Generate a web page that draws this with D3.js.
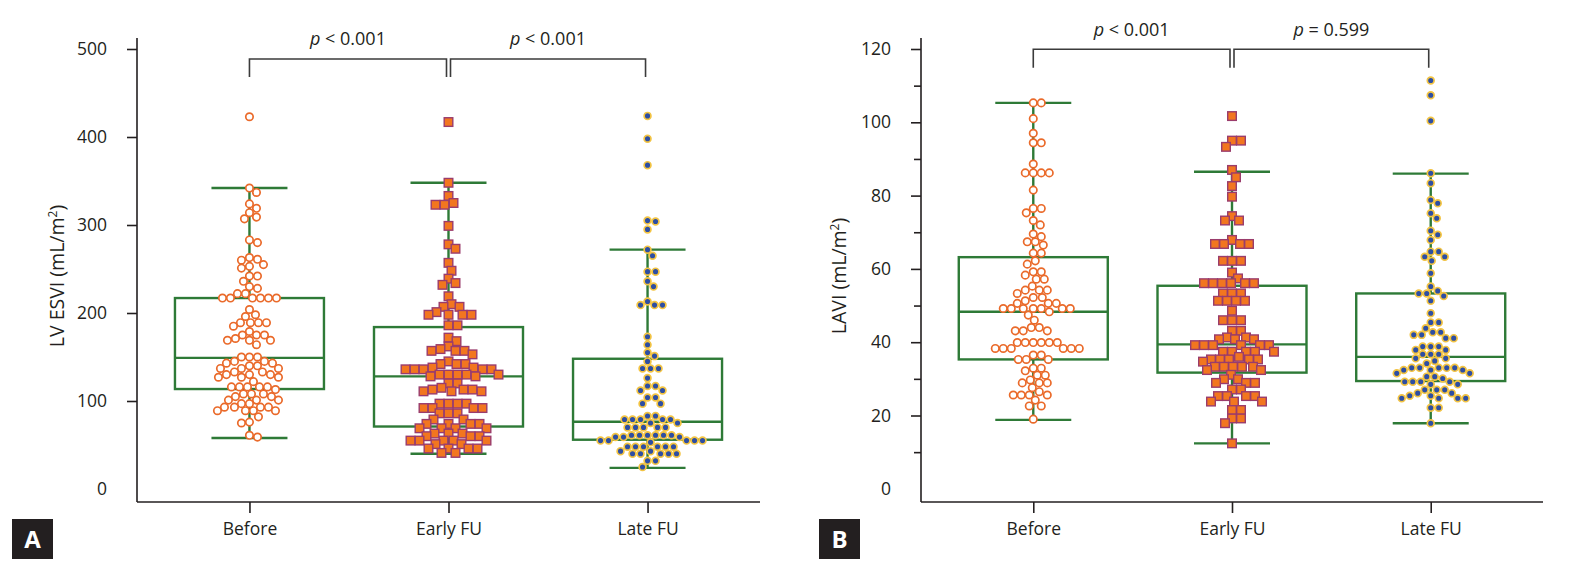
<!DOCTYPE html>
<html>
<head>
<meta charset="utf-8">
<script src="https://cdn.jsdelivr.net/npm/d3@7"></script>
<style>
	body { margin: 0; background: #fff; }
	svg { display: block; }
	text { font-family: "Open Sans", sans-serif; fill: #231f20; }
</style>
</head>
<body>
<svg id="chart"></svg>
<script>
const width = 1571, height = 578;

// categories + ticks
const categories = ["Before", "Early FU", "Late FU"];
const ticksA = [0, 100, 200, 300, 400, 500];
const ticksB = [0, 20, 40, 60, 80, 100, 120];
const minorTicksB = [10, 30, 50, 70, 90, 110];

// box stats (Before, Early FU, Late FU)
const aLow = [58, 40, 24];
const aQ1 = [113.6, 71, 56];
const aMedian = [149, 128, 76.5];
const aQ3 = [217, 184, 148];
const aHigh = [342, 348, 272];

const bLow = [18.8, 12.4, 17.9];
const bQ1 = [35.3, 31.7, 29.4];
const bMedian = [48.3, 39.4, 36];
const bQ3 = [63.2, 55.4, 53.3];
const bHigh = [105.3, 86.5, 86];

// individual points, LV ESVI (mL/m2)
const aBefore = [423, 342, 337, 324, 319, 314, 309, 307, 283, 280, 263, 261, 260, 255, 253, 251, 242, 242, 236, 230, 228,
	222, 222, 217, 217, 217, 217, 217, 217, 204, 198, 196, 189, 189, 189, 189, 185, 179, 175, 175, 175, 171, 169, 169, 169,
	164, 150, 150, 150, 145, 145, 143, 143, 140, 140, 137, 137, 137, 133, 133, 130, 130, 130, 127, 127, 127, 122, 116, 116,
	116, 116, 116, 113, 108, 108, 108, 105, 105, 101, 101, 101, 97, 97, 93, 93, 93, 93, 89, 89, 89, 89, 82, 76, 75, 61, 59];
const aEarly = [417, 348, 333, 325, 323, 323, 299, 278, 273, 257, 248, 239, 234, 232, 219, 210, 207, 207, 201, 198, 198,
	198, 198, 186, 186, 172, 168, 162, 159, 157, 157, 157, 153, 145, 142, 142, 142, 138, 138, 136, 136, 136, 136, 136, 130,
	130, 130, 130, 130, 128, 128, 120, 120, 115, 113, 113, 113, 111, 111, 111, 97, 97, 97, 97, 92, 92, 92, 92, 86, 86, 86,
	79, 79, 74, 74, 74, 74, 69, 69, 69, 69, 63, 63, 63, 60, 60, 60, 55, 55, 55, 55, 55, 51, 51, 46, 46, 46, 46, 41, 41];
const aLate = [424, 398, 368, 305, 304, 295, 272, 265, 247, 247, 236, 230, 213, 209, 209, 209, 173, 164, 155, 151, 145,
	137, 137, 137, 126, 117, 117, 112, 112, 104, 104, 97, 97, 83, 83, 79, 79, 79, 79, 79, 75, 75, 70, 70, 70, 70, 70,
	61, 61, 61, 61, 61, 61, 59, 59, 59, 55, 55, 55, 55, 55, 53, 48, 48, 48, 48, 48, 48, 43, 43, 40, 40, 40, 40, 40, 32, 32, 25];

// individual points, LAVI (mL/m2)
const bBefore = [105.3, 105.3, 101, 97, 94.4, 94.4, 88.6, 86.2, 86.2, 86.2, 86.2, 81.5, 76.5, 76.5, 75.3, 73.2, 72, 69.5,
	68.8, 67.4, 67.4, 66.5, 64.3, 64.3, 62.2, 61.3, 59.2, 59.2, 58.3, 57.2, 57.2, 55.3, 54.2, 54.2, 54.2, 53.3, 52.2, 52.2,
	51.3, 50.6, 50.6, 50.6, 49.2, 49.2, 49.2, 49.2, 49.2, 49.2, 49.2, 48.3, 47.4, 46, 44, 44, 43.1, 43.1, 43.1, 39.9, 39.9,
	39.9, 39.9, 39.9, 39.9, 38.3, 38.3, 38.3, 38.3, 38.3, 38.3, 36.5, 36.5, 35.3, 35.3, 35.3, 32.9, 32.9, 32.2, 31, 31, 29.7,
	28.9, 28.9, 28.9, 27.6, 26.5, 25.6, 25.6, 25.6, 25.6, 24.2, 22.6, 22.6, 19];
const bEarly = [101.7, 95, 95, 93.3, 87, 85, 82.6, 79.7, 74.4, 73.2, 73.2, 67.9, 66.8, 66.8, 66.8, 66.8, 62.2, 62.2, 62.2,
	59, 57.4, 56.1, 56.1, 56.1, 56.1, 56.1, 56.1, 53.3, 53.3, 53.3, 51.3, 51.3, 51.3, 51.3, 48.6, 46, 46, 46, 43.1, 43.1,
	41.3, 41.3, 40.8, 40.8, 40.8, 39.2, 39.2, 39.2, 39.2, 39.2, 39.2, 37.4, 37.4, 37.4, 37.4, 37.4, 36, 35.3, 35.3, 35.3,
	35.3, 35.3, 34.7, 33.3, 33.3, 33.3, 33.3, 33.3, 32.4, 32.4, 31.1, 29.9, 29.9, 28.9, 28.9, 28.9, 27.1, 27.1, 25.3, 25.3,
	25.3, 25.3, 23.8, 23.8, 23.8, 21.5, 21.5, 19.2, 19.2, 17.9, 12.4];
const bLate = [111.4, 107.4, 100.4, 86.1, 83.4, 78.8, 77.9, 75.2, 73.8, 70.4, 69.3, 67.9, 64.7, 64.7, 63.3, 63.3, 62.2,
	58.8, 55.2, 54, 53.3, 53.3, 52.6, 51.3, 47.9, 45.4, 45.4, 43.8, 42.7, 42.7, 42, 42, 41.1, 41.1, 38.8, 38.8, 38.8, 37.9,
	37.9, 36.7, 36.7, 36.7, 35.6, 35.6, 34.9, 34.2, 33, 33, 33, 33, 33, 32.4, 32.4, 32.4, 31.5, 31.5, 30.6, 30.6, 30.1,
	29.2, 29.2, 29.2, 29.2, 28.5, 28.5, 27, 27, 27, 26.1, 26.1, 25.4, 25.4, 24.7, 24.7, 24.7, 24.7, 22.1, 22.1, 17.9];

const green = "#2e7a37";
const ink = "#231f20";

const svg = d3.select("#chart")
	.attr("width", width)
	.attr("height", height);

svg.append("rect").attr("width", width).attr("height", height).attr("fill", "#fff");

// simple beeswarm: nearest free horizontal offset for each point
function swarm(values, y, d) {
	const placed = [];
	values.slice().sort((a, b) => b - a).forEach(v => {
		const py = y(v);
		let off = 0;
		for (let k = 0; k < 300; k++) {
			const o = (k % 2 ? 1 : -1) * Math.ceil(k / 2);
			const hit = placed.some(p => (p.dx - o) * (p.dx - o) + (p.y - py) * (p.y - py) < d * d);
			if (!hit) { off = o; break; }
		}
		placed.push({ v: v, y: py, dx: off });
	});
	return placed;
}

function drawMarkers(g, pts, cx, kind) {
	if (kind === "square") {
		const s = 8.6;
		g.selectAll(null).data(pts).enter().append("rect")
			.attr("x", d => cx + d.dx - s / 2)
			.attr("y", d => d.y - s / 2)
			.attr("width", s).attr("height", s)
			.attr("fill", "#f2761f")
			.attr("stroke", "#9a3c6c")
			.attr("stroke-width", 1.4);
	} else if (kind === "ring") {
		g.selectAll(null).data(pts).enter().append("circle")
			.attr("cx", d => cx + d.dx)
			.attr("cy", d => d.y)
			.attr("r", 3.7)
			.attr("fill", "#fff")
			.attr("stroke", "#ea6a2a")
			.attr("stroke-width", 1.7);
	} else {
		g.selectAll(null).data(pts).enter().append("circle")
			.attr("cx", d => cx + d.dx)
			.attr("cy", d => d.y)
			.attr("r", 3.4)
			.attr("fill", "#2d4ea3")
			.attr("stroke", "#f3c443")
			.attr("stroke-width", 1.7);
	}
}

function drawPanel(cfg) {
	const g = svg.append("g");

	const x = d3.scalePoint()
		.domain(categories)
		.range([cfg.left, cfg.right])
		.padding(0.565);
	const y = d3.scaleLinear()
		.domain([0, cfg.max])
		.range([cfg.y0, cfg.yMax]);

	// boxes
	const bw = 149, cap = 76;
	categories.forEach((c, i) => {
		const cx = x(c);
		const bg = g.append("g")
			.attr("stroke", green)
			.attr("stroke-width", 2.4)
			.attr("fill", "none");
		bg.append("rect")
			.attr("x", cx - bw / 2)
			.attr("y", y(cfg.q3[i]))
			.attr("width", bw)
			.attr("height", y(cfg.q1[i]) - y(cfg.q3[i]));
		bg.append("line")
			.attr("x1", cx - bw / 2).attr("x2", cx + bw / 2)
			.attr("y1", y(cfg.med[i])).attr("y2", y(cfg.med[i]));
		bg.append("line")
			.attr("x1", cx).attr("x2", cx)
			.attr("y1", y(cfg.q3[i])).attr("y2", y(cfg.hi[i]));
		bg.append("line")
			.attr("x1", cx).attr("x2", cx)
			.attr("y1", y(cfg.q1[i])).attr("y2", y(cfg.lo[i]));
		bg.append("line")
			.attr("x1", cx - cap / 2).attr("x2", cx + cap / 2)
			.attr("y1", y(cfg.hi[i])).attr("y2", y(cfg.hi[i]));
		bg.append("line")
			.attr("x1", cx - cap / 2).attr("x2", cx + cap / 2)
			.attr("y1", y(cfg.lo[i])).attr("y2", y(cfg.lo[i]));
	});

	// points
	const kinds = ["ring", "square", "dot"];
	const sizes = [7.8, 8.2, 7.6];
	cfg.points.forEach((vals, i) => {
		const pts = swarm(vals, y, sizes[i]);
		drawMarkers(g.append("g"), pts, x(categories[i]), kinds[i]);
	});

	// Y axis
	const yAxis = g.append("g")
		.attr("transform", `translate(${cfg.left},0)`)
		.call(d3.axisLeft(y).tickValues(cfg.ticks).tickSize(10).tickPadding(20).tickSizeOuter(0));
	yAxis.select(".domain").remove();
	yAxis.selectAll(".tick").filter(d => d === 0).select("line").remove();
	yAxis.selectAll(".tick line").attr("stroke", ink).attr("stroke-width", 1.6);
	yAxis.selectAll(".tick text").attr("font-size", "17.5px").attr("font-family", "Open Sans").attr("fill", ink);

	if (cfg.minor) {
		const m = g.append("g")
			.attr("transform", `translate(${cfg.left},0)`)
			.call(d3.axisLeft(y).tickValues(cfg.minor).tickSize(7).tickFormat("").tickSizeOuter(0));
		m.select(".domain").remove();
		m.selectAll(".tick line").attr("stroke", ink).attr("stroke-width", 1.6);
	}

	// X axis
	const xAxis = g.append("g")
		.attr("transform", `translate(0,${cfg.axisY})`)
		.call(d3.axisBottom(x).tickSize(11).tickPadding(10).tickSizeOuter(0));
	xAxis.select(".domain").remove();
	xAxis.selectAll(".tick line").attr("stroke", ink).attr("stroke-width", 1.6);
	xAxis.selectAll(".tick text").attr("font-size", "17.5px").attr("font-family", "Open Sans").attr("fill", ink);

	// axis lines
	g.append("line")
		.attr("x1", cfg.left).attr("x2", cfg.left)
		.attr("y1", cfg.axisTop).attr("y2", cfg.axisY)
		.attr("stroke", ink).attr("stroke-width", 1.6);
	g.append("line")
		.attr("x1", cfg.left).attr("x2", cfg.right)
		.attr("y1", cfg.axisY).attr("y2", cfg.axisY)
		.attr("stroke", ink).attr("stroke-width", 1.6);

	// y title
	const t = g.append("text")
		.attr("transform", `translate(${cfg.titleX},276) rotate(-90)`)
		.attr("text-anchor", "middle")
		.attr("dy", "0.35em")
		.attr("font-size", "19.5px");
	t.append("tspan").text(cfg.title + " (mL/m");
	t.append("tspan").text("2").attr("font-size", "12px").attr("dy", "-0.6em");
	t.append("tspan").text(")").attr("dy", "0.39em");

	// significance brackets
	const pairs = [[0, 1], [1, 2]];
	pairs.forEach((p, i) => {
		const x0 = x(categories[p[0]]) + (i === 0 ? 0 : 2);
		const x1 = x(categories[p[1]]) - 2;
		g.append("path")
			.attr("d", `M${x0},${cfg.brDrop}V${cfg.brTop}H${x1}V${cfg.brDrop}`)
			.attr("fill", "none")
			.attr("stroke", "#3b3b3b")
			.attr("stroke-width", 1.6);
		const lab = g.append("text")
			.attr("x", (x0 + x1) / 2)
			.attr("y", cfg.brText)
			.attr("text-anchor", "middle")
			.attr("font-size", "18px");
		lab.append("tspan").text("p").attr("font-style", "italic");
		lab.append("tspan").text(cfg.pLabels[i]);
	});

	// panel letter
	g.append("rect")
		.attr("x", cfg.letterX).attr("y", 519)
		.attr("width", 41).attr("height", 40)
		.attr("fill", ink);
	g.append("text")
		.attr("x", cfg.letterX + 20.5).attr("y", 547.5)
		.attr("text-anchor", "middle")
		.attr("font-size", "24px")
		.attr("font-weight", "bold")
		.style("fill", "#fff")
		.text(cfg.letter);
}

drawPanel({
	left: 137, right: 760, axisY: 502, axisTop: 38,
	max: 500, y0: 489, yMax: 49,
	ticks: ticksA, minor: null,
	lo: aLow, q1: aQ1, med: aMedian, q3: aQ3, hi: aHigh,
	points: [aBefore, aEarly, aLate],
	title: "LV ESVI", titleX: 57,
	brTop: 59, brDrop: 77, brText: 45,
	pLabels: [" < 0.001", " < 0.001"],
	letter: "A", letterX: 12
});

drawPanel({
	left: 921, right: 1543, axisY: 502, axisTop: 38,
	max: 120, y0: 488.8, yMax: 49,
	ticks: ticksB, minor: minorTicksB,
	lo: bLow, q1: bQ1, med: bMedian, q3: bQ3, hi: bHigh,
	points: [bBefore, bEarly, bLate],
	title: "LAVI", titleX: 839,
	brTop: 49.3, brDrop: 67.7, brText: 36,
	pLabels: [" < 0.001", " = 0.599"],
	letter: "B", letterX: 819
});
</script>
</body>
</html>
